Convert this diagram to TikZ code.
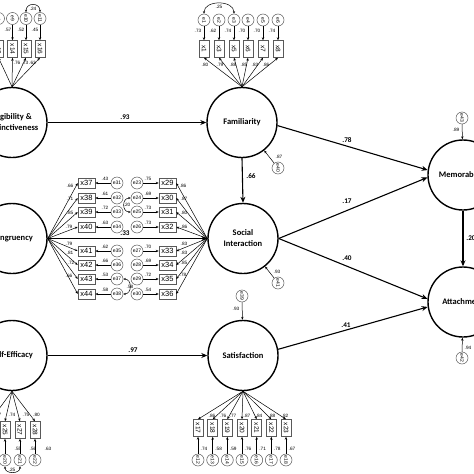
\documentclass[tikz,border=0pt]{standalone}
\usepackage{fontspec}
\usepackage{graphicx}
\setmainfont{Liberation Sans}
\newfontfamily\carl{Carlito}
\usetikzlibrary{arrows.meta,calc}
\begin{document}
\begin{tikzpicture}[x=1pt,y=-1pt,
  lat/.style={circle,draw,line width=1.4pt,minimum size=70pt,inner sep=0pt,align=center,font=\carl\bfseries\fontsize{8.5}{11}\selectfont},
  hbox/.style={draw=black!65,line width=0.5pt,minimum width=17pt,minimum height=10pt,inner sep=0pt,font=\fontsize{7.5}{8}\selectfont},
  vbox/.style={draw=black!65,line width=0.5pt,minimum width=10pt,minimum height=17pt,inner sep=0pt,font=\fontsize{6.5}{7}\selectfont},
  err/.style={circle,draw=black!65,line width=0.5pt,minimum size=12pt,inner sep=0pt,font=\fontsize{5}{5}\selectfont},
  ldg/.style={line width=0.5pt,-{Stealth[length=3pt,width=2.4pt]}},
  cov/.style={line width=0.5pt,{Stealth[length=2.5pt,width=2pt]}-{Stealth[length=2.5pt,width=2pt]}},
  mainpath/.style={line width=1.1pt,-{Stealth[length=6pt,width=5pt]}},
  num/.style={font=\fontsize{4.7}{5}\selectfont,inner sep=0pt},
  coef/.style={font=\carl\bfseries\fontsize{7.2}{8}\selectfont,inner sep=0pt}]
\useasboundingbox (0,0) rectangle (474,474);
\clip (0,0) rectangle (474,474);

% latent variables
\node[lat] (LD) at (12,122.5) {Legibility \&\\Distinctiveness};
\node[lat] (FA) at (242,122.5) {Familiarity};
\node[lat] (CO) at (12,238.5) {Congruency};
\node[lat] (SI) at (243,238.5) {Social\\Interaction};
\node[lat] (SE) at (12,355.5) {Self-Efficacy};
\node[lat] (SA) at (243,355.5) {Satisfaction};
\node[lat] (ME) at (463,175) {Memorability};
\node[lat] (AT) at (463,302) {Attachment};

% Legibility indicators (top left)
\foreach \x/\n/\e [count=\i] in {-1.5/13/8, 12.5/14/9, 26/15/10, 40/16/11} {
  \node[vbox] (L\i) at (\x,49) {\rotatebox{-90}{x\n}};
  \node[err] (LE\i) at (\x,18.5) {\rotatebox{-90}{e\e}};
  \draw[ldg] (LE\i) -- (L\i);
  \draw[ldg] (LD.north) -- (L\i.south);
}
\foreach \x/\t in {8/.57, 21/.52, 35/.45} \node[num] at (\x,30) {\t};
\foreach \x/\t in {17/.76, 25/.73, 32.5/.63} \node[num] at (\x,63) {\t};
\draw[cov] (LE3.north) .. controls +(0,-10) and +(0,-10) .. (LE4.north);
\node[num] at (33,9) {.24};

% Familiarity indicators (top middle)
\foreach \x/\n/\e/\el/\lx/\ll [count=\i] in {204/1/1/.73/205/.80, 219/3/2/.62/220/.79, 234/5/3/.74/233/.88, 248/6/4/.70/244/.85, 263/7/5/.70/255/.83, 278/8/6/.74/266/.86} {
  \node[vbox] (F\i) at (\x,49) {\rotatebox{-90}{x\n}};
  \node[err] (FE\i) at (\x,20) {\rotatebox{-90}{e\e}};
  \draw[ldg] (FE\i) -- (F\i);
  \draw[ldg] (FA.north) -- (F\i.south);
  \node[num] at (\x-6,31) {\el};
  \node[num] at (\lx,65) {\ll};
}
\draw[cov] (FE1.north) .. controls +(0,-14) and +(0,-14) .. (FE3.north);
\node[num] at (219,7) {.25};

% Congruency / Social Interaction indicators (middle)
\foreach \y/\nl/\el/\vl/\lx/\ly/\ll/\nr/\er/\vr/\rx/\ry/\lr [count=\i] in {
  183/37/31/.43/70/186/.66/29/23/.75/183/186/.86,
  198/38/32/.61/70/199/.71/30/24/.69/184/199/.87,
  212/39/33/.72/70/213/.85/31/25/.73/184/213/.80,
  227/40/34/.63/69/227/.79/32/26/.73/184/227/.86,
  251/41/35/.62/69/244/.79/33/27/.70/184/244/.83,
  265/42/36/.66/70/253/.81/34/28/.69/184/253/.83,
  279/43/37/.53/71/263/.72/35/29/.72/184/263/.85,
  294/44/38/.58/69/276/.66/36/30/.54/183/275/.78} {
  \node[hbox] (CL\i) at (86.5,\y) {x\nl};
  \node[err] (CLE\i) at (117,\y) {e\el};
  \draw[ldg] (CLE\i) -- (CL\i);
  \draw[ldg] (CO.east) -- (CL\i.west);
  \node[num] at (105,\y-4.5) {\vl};
  \node[num] at (\lx,\ly) {\ll};
  \node[hbox] (CR\i) at (167.5,\y) {x\nr};
  \node[err] (CRE\i) at (137,\y) {e\er};
  \draw[ldg] (CRE\i) -- (CR\i);
  \draw[ldg] (SI.west) -- (CR\i.east);
  \node[num] at (148,\y-4.5) {\vr};
  \node[num] at (\rx,\ry) {\lr};
}
\draw[cov] (CRE2.west) .. controls +(-9,0) and +(-9,0) .. (CRE3.west);
\node[num] at (127,205) {.20};
\draw[cov] (CLE7.east) .. controls +(9,0) and +(9,0) .. (CLE8.east);
\node[num] at (130,287) {.58};

% Self-Efficacy indicators (bottom left)
\node[vbox] (S0) at (-10,430) {\rotatebox{-90}{x24}};
\draw[ldg] (SE.south) -- (S0.north);
\node[num] at (-2,415) {.77};
\foreach \x/\n/\e/\el/\ll/\lx [count=\i] in {5/25/20/.55/.74/12, 20/27/21/.56/.75/26, 35/28/22/.63/.80/36.5} {
  \node[vbox] (S\i) at (\x,430) {\rotatebox{-90}{x\n}};
  \node[err] (SEE\i) at (\x,460) {\rotatebox{-90}{e\e}};
  \draw[ldg] (SEE\i) -- (S\i);
  \draw[ldg] (SE.south) -- (S\i.north);
  \node[num] at (\x+13,449) {\el};
  \node[num] at (\lx,415) {\ll};
}
\draw[cov] (SEE1.south) .. controls +(0,8) and +(0,8) .. (SEE2.south);
\node[num] at (12,470) {.25};

% Satisfaction indicators (bottom middle)
\foreach \x/\n/\e/\el/\lx/\ll [count=\i] in {198/17/12/.74/212/.86, 212.7/18/13/.58/223/.76, 227.3/19/14/.59/233/.77, 242/20/15/.76/247/.87, 256.7/21/16/.71/259/.84, 271.3/22/17/.78/272/.88, 286/23/18/.67/285/.82} {
  \node[vbox] (T\i) at (\x,428) {\rotatebox{-90}{x\n}};
  \node[err] (TE\i) at (\x,460) {\rotatebox{-90}{e\e}};
  \draw[ldg] (TE\i) -- (T\i);
  \draw[ldg] (SA.south) -- (T\i.north);
  \node[num] at (\x+6,449) {\el};
  \node[num] at (\lx,416) {\ll};
}

% latent disturbances
\node[err] (eSA) at (242,296) {\rotatebox{-90}{e39}};
\node[err] (eFA) at (278,168) {\rotatebox{-90}{e40}};
\node[err] (eSI) at (278,283) {\rotatebox{-90}{e41}};
\node[err] (eAT) at (462,358) {\rotatebox{-90}{e42}};
\node[err] (eME) at (462,118) {\rotatebox{-90}{e43}};
\draw[ldg] (eSA) -- (SA);
\draw[ldg] (eFA) -- (FA);
\draw[ldg] (eSI) -- (SI);
\draw[ldg] (eAT) -- (AT);
\draw[ldg] (eME) -- (ME);
\node[num] at (236,309) {.93};
\node[num] at (279,157) {.87};
\node[num] at (277,272) {.93};
\node[num] at (468,348) {.94};
\node[num] at (456,130) {.89};

% structural paths
\draw[mainpath] (LD.east) -- (FA.west);
\node[coef] at (125,117) {.93};
\draw[mainpath] (CO.east) -- (SI.west);
\node[coef] at (125,233) {.33};
\draw[mainpath] (SE.east) -- (SA.west);
\node[coef] at (133,350) {.97};
\draw[mainpath] (FA.south) -- (SI.north);
\node[coef] at (251,176) {.66};
\draw[mainpath] (FA.-5) -- (ME.172);
\node[coef] at (347,140) {.78};
\draw[mainpath] (SI.east) -- (ME.-176);
\node[coef] at (347,201) {.17};
\draw[mainpath] (SI.east) -- (AT.175);
\node[coef] at (347,258) {.40};
\draw[mainpath] (SA.10) -- (AT.-172);
\node[coef] at (346,325) {.41};
\draw[mainpath] (ME.south) -- (AT.north);
\node[coef] at (471,238) {.20};
\end{tikzpicture}
\end{document}
